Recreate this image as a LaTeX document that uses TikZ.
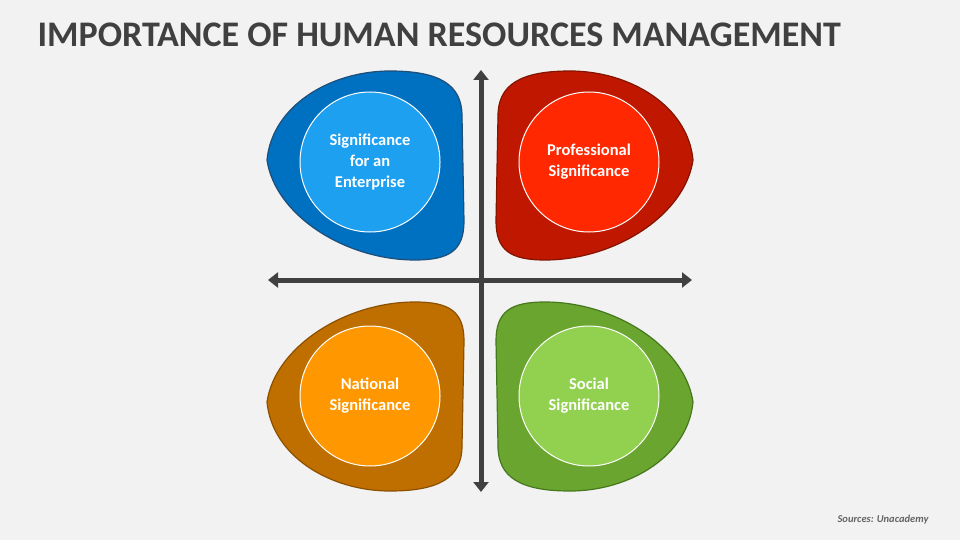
\documentclass[tikz,border=0pt]{standalone}
\usepackage{fontspec}
\setmainfont{Carlito}
\usetikzlibrary{arrows.meta}
\definecolor{bg}{HTML}{F2F2F2}
\definecolor{axis}{HTML}{404040}
\tikzset{
  petal/.style={line width=1.2pt},
  disc/.style={circle, draw=white, line width=1pt, minimum size=140pt, inner sep=0pt, align=center, text=white, font=\bfseries\fontsize{16.5}{21}\selectfont},
  axisline/.style={draw=axis, line width=5pt, -{Triangle[length=10pt,width=15pt]}},
}
\newcommand\petalpath{(-213,-121) .. controls (-208,-175) and (-150,-210) .. (-90,-210) .. controls (-40,-210) and (-18,-196) .. (-18,-165) -- (-16,-60) .. controls (-16,-31) and (-30,-21) .. (-65,-21) .. controls (-135,-21) and (-205,-66) .. (-213,-121) -- cycle}
\begin{document}
\begin{tikzpicture}[x=1pt,y=-1pt]
\fill[bg] (0,0) rectangle (960,540);
\useasboundingbox (0,0) rectangle (960,540);
\node[anchor=west, font=\bfseries\fontsize{36}{40}\selectfont, text={rgb,255:red,64;green,64;blue,64}] (title) at (34,35) {IMPORTANCE OF HUMAN RESOURCES MANAGEMENT};
\begin{scope}[shift={(480,281)}]
  \draw[petal, fill={rgb,255:red,0;green,112;blue,192}, draw={rgb,255:red,31;green,78;blue,121}] \petalpath;
  \begin{scope}[xscale=-1]
    \draw[petal, fill={rgb,255:red,192;green,24;blue,0}, draw={rgb,255:red,130;green,20;blue,0}] \petalpath;
  \end{scope}
  \begin{scope}[yscale=-1]
    \draw[petal, fill={rgb,255:red,191;green,111;blue,0}, draw={rgb,255:red,140;green,80;blue,0}] \petalpath;
  \end{scope}
  \begin{scope}[xscale=-1,yscale=-1]
    \draw[petal, fill={rgb,255:red,106;green,165;blue,47}, draw={rgb,255:red,70;green,120;blue,30}] \petalpath;
  \end{scope}
\end{scope}
\node[disc, fill={rgb,255:red,30;green,160;blue,240}] (c1) at (370,162) {Significance\\for an\\Enterprise};
\node[disc, fill={rgb,255:red,255;green,40;blue,0}] (c2) at (589,162) {Professional\\Significance};
\node[disc, fill={rgb,255:red,255;green,152;blue,0}] (c3) at (370,396) {National\\Significance};
\node[disc, fill={rgb,255:red,146;green,208;blue,80}] (c4) at (589,396) {Social\\Significance};
\coordinate (top) at (481,70);
\coordinate (bot) at (481,492);
\coordinate (lft) at (268,280);
\coordinate (rgt) at (692,280);
\coordinate (ctr) at (481,280);
\draw[axisline] (ctr) -- (top);
\draw[axisline] (ctr) -- (bot);
\draw[axisline] (ctr) -- (lft);
\draw[axisline] (ctr) -- (rgt);
\node[anchor=east, font=\bfseries\itshape\fontsize{10.5}{12}\selectfont, text={rgb,255:red,100;green,100;blue,100}] (src) at (932,520) {Sources: Unacademy};
\end{tikzpicture}
\end{document}
